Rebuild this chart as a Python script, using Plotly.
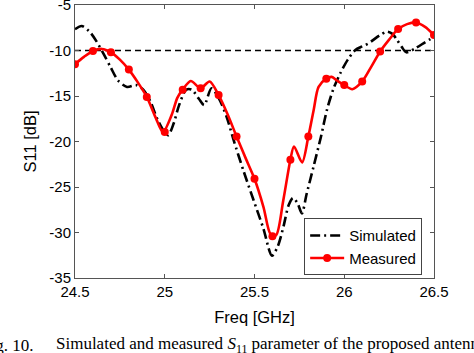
import plotly.graph_objects as go

# Measured: marker points every 0.1 GHz
meas_freq = [24.5, 24.6, 24.7, 24.8, 24.9, 25.0, 25.1, 25.2, 25.3, 25.4, 25.5,
             25.6, 25.7, 25.8, 25.9, 26.0, 26.1, 26.2, 26.3, 26.4, 26.5]
meas_s11 = [-11.5, -10.05, -10.2, -12.1, -15.1, -18.95, -14.3, -14.15, -14.9, -19.45, -24.1,
            -30.4, -22.0, -19.45, -13.1, -13.8, -13.4, -10.1, -7.65, -6.92, -8.3]

# Measured: traced curve between markers
meas_curve_freq = [24.5, 24.55, 24.6, 24.65, 24.7, 24.75, 24.8, 24.85, 24.9, 24.95, 24.99,
                   25.04, 25.07, 25.1, 25.145, 25.2, 25.25, 25.3, 25.35, 25.4, 25.45, 25.5,
                   25.55, 25.59, 25.62, 25.66, 25.7, 25.72, 25.765, 25.8, 25.83, 25.857,
                   25.9, 25.93, 25.96, 26.0, 26.045, 26.1, 26.15, 26.2, 26.25, 26.3, 26.35,
                   26.4, 26.45, 26.5]
meas_curve_s11 = [-11.5, -10.7, -10.05, -9.83, -10.2, -11.0, -12.1, -13.5, -15.1, -17.4, -18.95,
                  -17.0, -15.2, -14.3, -13.35, -14.15, -13.4, -14.9, -17.0, -19.45, -21.8, -24.1,
                  -27.2, -30.2, -30.3, -26.5, -22.0, -20.55, -22.3, -19.45, -16.5, -14.0,
                  -13.1, -12.9, -13.3, -13.8, -14.25, -13.4, -11.8, -10.1, -8.8, -7.65, -7.1,
                  -6.92, -7.4, -8.3]

# Simulated curve
sim_freq = [24.5, 24.537, 24.58, 24.62, 24.66, 24.7, 24.74, 24.79, 24.84, 24.88, 24.92,
            24.96, 25.0, 25.02, 25.05, 25.08, 25.12, 25.15, 25.19, 25.22, 25.26, 25.3,
            25.345, 25.383, 25.44, 25.494, 25.55, 25.597, 25.63, 25.662, 25.69, 25.714,
            25.74, 25.764, 25.79, 25.829, 25.87, 25.904, 25.94, 25.978, 26.02, 26.062,
            26.1, 26.136, 26.2, 26.238, 26.27, 26.294, 26.32, 26.346, 26.396, 26.45, 26.5]
sim_s11 = [-7.67, -7.3, -7.9, -9.0, -10.4, -11.9, -13.3, -14.0, -13.8, -14.3, -15.6,
           -17.6, -19.0, -19.3, -18.0, -16.0, -14.3, -14.3, -15.3, -16.0, -14.15, -15.2,
           -17.3, -19.8, -23.3, -26.4, -29.6, -32.55, -31.5, -29.3, -27.0, -26.2,
           -26.8, -27.9, -25.8, -22.75, -19.5, -16.5, -14.2, -12.5, -11.0, -9.94,
           -9.55, -9.2, -8.3, -7.93, -8.2, -8.84, -9.6, -10.2, -9.76, -9.1, -8.5]

threshold = -10
x_range = [24.5, 26.5]
y_range = [-35, -5]
x_ticks = [24.5, 25, 25.5, 26, 26.5]
y_ticks = [-35, -30, -25, -20, -15, -10, -5]

RED = "#ff0000"
FONT = "Liberation Sans, Arial, sans-serif"
SERIF = "Liberation Serif, Times New Roman, serif"

fig = go.Figure()

fig.add_trace(go.Scatter(x=x_range, y=[threshold, threshold], mode="lines",
                         line=dict(color="black", width=1.3, dash="6px,4px"),
                         showlegend=False, hoverinfo="skip"))

fig.add_trace(go.Scatter(x=sim_freq, y=sim_s11, mode="lines", name="Simulated",
                         line=dict(color="black", width=2.6, dash="10px,4px,2px,4px",
                                   shape="spline", smoothing=0.8)))

fig.add_trace(go.Scatter(x=meas_curve_freq, y=meas_curve_s11, mode="lines",
                         line=dict(color=RED, width=2.6, shape="spline", smoothing=0.8),
                         showlegend=False, hoverinfo="skip"))

fig.add_trace(go.Scatter(x=meas_freq, y=meas_s11, mode="markers",
                         marker=dict(color=RED, size=8, symbol="circle"),
                         showlegend=False))

fig.add_trace(go.Scatter(x=[None], y=[None], mode="lines+markers", name="Measured",
                         line=dict(color=RED, width=2.6),
                         marker=dict(color=RED, size=8)))

axis_common = dict(showline=True, linecolor="#555555", linewidth=1, mirror="ticks",
                   ticks="inside", ticklen=4, tickcolor="#555555", showgrid=False,
                   zeroline=False, ticklabeloverflow="allow", automargin=False,
                   tickfont=dict(family=FONT, size=15, color="black"))

fig.update_xaxes(range=x_range, tickvals=x_ticks, ticktext=[str(v) for v in x_ticks],
                 title=dict(text="Freq [GHz]", font=dict(family=FONT, size=16.5, color="black"),
                            standoff=12),
                 **axis_common)
fig.update_yaxes(range=y_range, tickvals=y_ticks, ticktext=[str(v) for v in y_ticks],
                 title=dict(text="S11 [dB]", font=dict(family=FONT, size=16.5, color="black"),
                            standoff=8),
                 **axis_common)

fig.update_layout(
    width=474, height=353,
    margin=dict(l=75, r=40, t=5, b=75),
    plot_bgcolor="white", paper_bgcolor="white",
    font=dict(family=FONT, size=15, color="black"),
    legend=dict(x=0.967, y=0.01, xanchor="right", yanchor="bottom",
                bgcolor="white", bordercolor="#444444", borderwidth=1,
                font=dict(family=FONT, size=15, color="black"),
                itemwidth=34, tracegroupgap=0),
    annotations=[
        dict(xref="paper", yref="paper", x=(35 - 75) / 359, y=(278 - 345) / 273,
             xanchor="right", yanchor="middle", showarrow=False,
             text="Fig. 10.", font=dict(family=SERIF, size=17, color="black")),
        dict(xref="paper", yref="paper", x=(54 - 75) / 359, y=(278 - 345) / 273,
             xanchor="left", yanchor="middle", showarrow=False,
             text="Simulated and measured <i>S</i><sub>11</sub> parameter of the proposed antenna",
             font=dict(family=SERIF, size=17, color="black")),
    ],
)

fig.write_html("out.html")
